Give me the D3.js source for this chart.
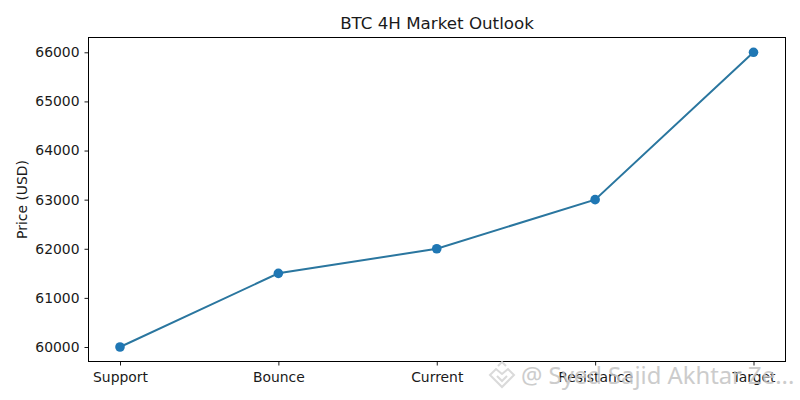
<!DOCTYPE html>
<html>
<head>
  <meta charset="UTF-8">
  <script src="https://d3js.org/d3.v7.min.js"></script>
  <title>BTC 4H Market Outlook</title>
  <style type="text/css">
    html, body { margin:0; padding:0; background:#fff; overflow:hidden; }
    svg { display:block; }
    text { font-family:"DejaVu Sans", sans-serif; fill:#1a1a1a; }
  </style>
</head>
<body>
  <svg id="chart" width="800" height="400"></svg>
  <script>
    const categories = ["Support", "Bounce", "Current", "Resistance", "Target"];
    const prices = [60000, 61500, 62000, 63000, 66000];
    const yTicks = [60000, 61000, 62000, 63000, 64000, 65000, 66000];

    const svg = d3.select("#chart");
    const plot = {left: 88.5, right: 785.5, top: 37.5, bottom: 361.5};

    // the points sit inset from the frame, like matplotlib margins
    const xScale = d3.scalePoint().domain(categories).range([120, 753.5]);
    const yScale = d3.scaleLinear().domain([60000, 66000]).range([347, 52.3]);

    svg.append("text")
      .attr("x", (plot.left + plot.right) / 2)
      .attr("y", 29)
      .attr("text-anchor", "middle")
      .style("font-size", "16.7px")
      .text("BTC 4H Market Outlook");

    const xAxis = svg.append("g")
      .attr("transform", "translate(0," + plot.bottom + ")")
      .call(d3.axisBottom(xScale).tickSize(4).tickPadding(6.5));

    const yAxis = svg.append("g")
      .attr("transform", "translate(" + plot.left + ",0)")
      .call(d3.axisLeft(yScale).tickValues(yTicks).tickFormat(d3.format("d")).tickSize(4).tickPadding(5));

    [xAxis, yAxis].forEach(function(ax) {
      ax.select(".domain").remove();
      ax.selectAll("line").attr("stroke", "#000").attr("stroke-width", 0.9);
      ax.selectAll("text").style("font-size", "13.9px").attr("fill", "#1a1a1a");
    });

    // frame
    svg.append("rect")
      .attr("x", plot.left)
      .attr("y", plot.top)
      .attr("width", plot.right - plot.left)
      .attr("height", plot.bottom - plot.top)
      .attr("fill", "none")
      .attr("stroke", "#000")
      .attr("stroke-width", 1);

    svg.append("text")
      .attr("transform", "translate(26.5," + (plot.top + plot.bottom) / 2 + ") rotate(-90)")
      .attr("text-anchor", "middle")
      .style("font-size", "13.9px")
      .text("Price (USD)");

    const points = categories.map(function(c, i) { return {cat: c, price: prices[i]}; });

    const line = d3.line()
      .x(function(d) { return xScale(d.cat); })
      .y(function(d) { return yScale(d.price); });

    svg.append("path")
      .datum(points)
      .attr("d", line)
      .attr("fill", "none")
      .attr("stroke", "#2a769f")
      .attr("stroke-width", 2);

    svg.selectAll("circle.pt")
      .data(points)
      .enter()
      .append("circle")
      .attr("class", "pt")
      .attr("cx", function(d) { return xScale(d.cat); })
      .attr("cy", function(d) { return yScale(d.price); })
      .attr("r", 4.8)
      .attr("fill", "#1f77b4");

    // watermark over the bottom right corner
    const mark = svg.append("g").attr("opacity", 0.85);
    const icon = mark.append("g")
      .attr("transform", "translate(502,375)")
      .attr("fill", "none")
      .attr("stroke", "#d4d4d4")
      .attr("stroke-width", 2);
    icon.append("path").attr("d", "M-12,0 L-6,-6 L0,-1 L6,-6 L12,0 L0,12 Z");
    icon.append("path").attr("d", "M-5,1 L0,6 L5,1");
    icon.append("path").attr("d", "M-4,-9 L0,-13 L4,-9");

    mark.append("text")
      .attr("x", 521)
      .attr("y", 384)
      .style("font-size", "23.8px")
      .style("font-family", "'Noto Sans', sans-serif")
      .style("fill", "#c4c4c4")
      .text("@ Syed Sajid Akhtar Ze...");
  </script>
</body>
</html>
